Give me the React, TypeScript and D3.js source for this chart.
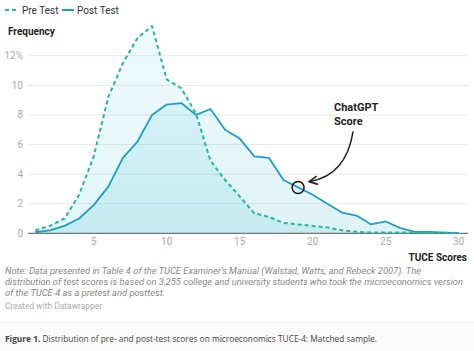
import React from 'react'
import * as d3 from 'd3'

// scores on the TUCE-4 (0-30 correct answers)
const scores = [1, 2, 3, 4, 5, 6, 7, 8, 9, 10, 11, 12, 13, 14, 15, 16, 17, 18, 19, 20, 21, 22, 23, 24, 25, 26, 27, 28, 29, 30]

// share of students (%) for each score
const preTest = [0.2, 0.5, 1.0, 2.6, 5.2, 9.2, 11.5, 13.2, 14.0, 10.4, 9.8, 8.1, 4.9, 3.6, 2.5, 1.35, 1.1, 0.7, 0.6, 0.5, 0.4, 0.2, 0.1, 0.05, 0.05, 0.05, 0.05, 0.03, 0.03, 0.02]
const postTest = [0.07, 0.2, 0.5, 1.0, 1.9, 3.15, 5.1, 6.2, 8.0, 8.7, 8.8, 8.0, 8.4, 7.0, 6.4, 5.2, 5.1, 3.6, 3.1, 2.6, 2.0, 1.4, 1.2, 0.6, 0.8, 0.35, 0.1, 0.1, 0.05, 0.02]

const yTicks = [0, 2, 4, 6, 8, 10, 12]
const xTicks = [5, 10, 15, 20, 25, 30]

const chatGptScore = 19

const noteLines = [
  'Note: Data presented in Table 4 of the TUCE Examiner’s Manual (Walstad, Watts, and Rebeck 2007). The',
  'distribution of test scores is based on 3,255 college and university students who took the microeconomics version',
  'of the TUCE-4 as a pretest and posttest.',
]
const noteWidths = [416, 458, 160]

const PRE_COLOR = '#26b5a0'
const POST_COLOR = '#1d9ec4'
const PRE_FILL = '#2ec4cc'
const POST_FILL = '#22b0cc'
const FONT = 'Roboto, sans-serif'

const App: React.FC = () => {
  const width = 474
  const height = 351

  const x = d3.scaleLinear().domain([0, 30]).range([20.7, 458.7])
  const y = d3.scaleLinear().domain([0, 12]).range([233.3, 55.7])

  const line = d3.line<number>()
    .x((_, i) => x(scores[i]))
    .y(d => y(d))
  const area = d3.area<number>()
    .x((_, i) => x(scores[i]))
    .y0(y(0))
    .y1(d => y(d))

  const gridLeft = 28
  const gridRight = 468

  // marker for ChatGPT's score on the post test curve
  const cx = x(chatGptScore)
  const cy = y(postTest[scores.indexOf(chatGptScore)])

  return (
    <div style={{ position: 'absolute', left: 0, top: 0 }}>
      <svg width={width} height={height} style={{ display: 'block', fontFamily: FONT }}>
        <defs>
          <marker id="arrow" viewBox="0 0 10 10" refX="8" refY="5" markerWidth="7" markerHeight="7" orient="auto-start-reverse">
            <path d="M1,1 L9,5 L1,9" fill="none" stroke="#222" strokeWidth={1.6} />
          </marker>
          <linearGradient id="preFill" x1="0" y1="0" x2="0" y2="1">
            <stop offset="0" stopColor={PRE_FILL} stopOpacity={0.08} />
            <stop offset="1" stopColor={PRE_FILL} stopOpacity={0.14} />
          </linearGradient>
          <linearGradient id="postFill" x1="0" y1="0" x2="0" y2="1">
            <stop offset="0" stopColor={POST_FILL} stopOpacity={0.1} />
            <stop offset="1" stopColor={POST_FILL} stopOpacity={0.15} />
          </linearGradient>
        </defs>
        <rect width={width} height={height} fill="#fff" />

        {/* legend */}
        <line x1={5} x2={17} y1={10} y2={10} stroke={PRE_COLOR} strokeWidth={2} strokeDasharray="4 3" />
        <text x={22} y={13.5} fontSize={10} fill="#333">Pre Test</text>
        <line x1={62} x2={74} y1={10} y2={10} stroke={POST_COLOR} strokeWidth={2} />
        <text x={77} y={13.5} fontSize={10} fill="#333">Post Test</text>

        <text x={8} y={35} fontSize={10} fontWeight="bold" fill="#222">Frequency</text>

        {/* grid + y labels */}
        {yTicks.map(t => (
          <g key={t}>
            {t > 0 && <line x1={gridLeft} x2={gridRight} y1={y(t)} y2={y(t)} stroke="#e8e8e8" strokeWidth={1} />}
            <text x={23} y={y(t) + 3.5} textAnchor="end" fontSize={10} fill="#aaa">{t === 12 ? '12%' : t}</text>
          </g>
        ))}

        {/* areas */}
        <path d={area(preTest) || ''} fill="url(#preFill)" />
        <path d={area(postTest) || ''} fill="url(#postFill)" />

        {/* baseline */}
        <line x1={gridLeft} x2={gridRight} y1={y(0)} y2={y(0)} stroke="#555" strokeWidth={1} />

        {/* lines */}
        <path d={line(postTest) || ''} fill="none" stroke={POST_COLOR} strokeWidth={1.8} strokeLinejoin="round" />
        <path d={line(preTest) || ''} fill="none" stroke={PRE_COLOR} strokeWidth={2} strokeDasharray="4 3" strokeLinejoin="round" />

        {/* x labels */}
        {xTicks.map(t => (
          <text key={t} x={x(t)} y={y(0) + 12} textAnchor="middle" fontSize={10} fill="#aaa">{t}</text>
        ))}
        <text x={467} y={261} textAnchor="end" fontSize={10} fontWeight="bold" fill="#222">TUCE Scores</text>

        {/* annotation */}
        <circle cx={cx} cy={cy} r={6} fill="none" stroke="#111" strokeWidth={1.5} />
        <path d={`M${cx + 55},${cy - 56} Q${cx + 48},${cy - 12} ${cx + 12},${cy - 6}`} fill="none" stroke="#222" strokeWidth={1.5} markerEnd="url(#arrow)" />
        <text x={334} y={111} fontSize={11} fontWeight="bold" fill="#222">ChatGPT</text>
        <text x={334} y={125} fontSize={11} fontWeight="bold" fill="#222">Score</text>

        {/* notes */}
        <g fontSize={9.3} fontStyle="italic" fill="#888">
          {noteLines.map((t, i) => (
            <text key={i} x={5} y={273.5 + i * 11} textLength={noteWidths[i]} lengthAdjust="spacingAndGlyphs">{t}</text>
          ))}
        </g>
        <text x={5} y={309} fontSize={8.5} fill="#aaa" textLength={97} lengthAdjust="spacingAndGlyphs">Created with Datawrapper</text>

        {/* figure caption */}
        <rect x={0} y={322} width={width} height={29} fill="#fafafa" />
        <line x1={0} x2={width} y1={322} y2={322} stroke="#f0f0f0" />
        <text x={5} y={342} fontSize={8.6} fill="#444" fontFamily="'Open Sans', sans-serif" textLength={372} lengthAdjust="spacingAndGlyphs">
          <tspan fontWeight="bold">Figure 1.</tspan> Distribution of pre- and post-test scores on microeconomics TUCE-4: Matched sample.
        </text>
      </svg>
    </div>
  )
}

export default App
